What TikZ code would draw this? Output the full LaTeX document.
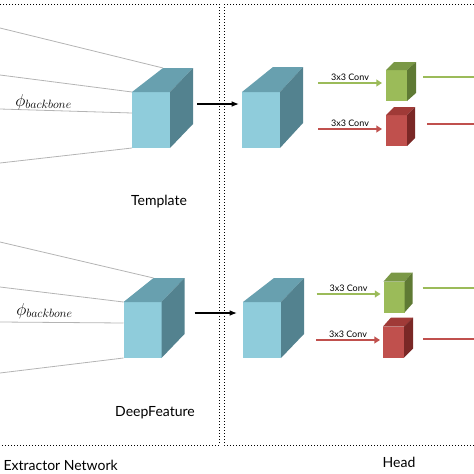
\documentclass[tikz,border=0pt]{standalone}
\usepackage{fontspec}
\setmainfont{Lato}
\usepackage{tikz}
\usetikzlibrary{arrows.meta,positioning}

\definecolor{cubefront}{HTML}{8FCCDB}
\definecolor{cubetop}{HTML}{68A0AF}
\definecolor{cubeside}{HTML}{53828F}
\definecolor{clsfront}{HTML}{9BBB59}
\definecolor{clstop}{HTML}{7A9846}
\definecolor{clsside}{HTML}{5F7A34}
\definecolor{regfront}{HTML}{C0504D}
\definecolor{regtop}{HTML}{A03A37}
\definecolor{regside}{HTML}{7A2826}
\definecolor{feedgray}{HTML}{B4B4B4}

% top and side faces of a cube whose front face is node #1
\newcommand{\cubesides}[6]{%
  \fill[#5] (#1.north west) -- ++(#2,-#4) -- ([shift={(#3,-#4)}]#1.north east) -- (#1.north east) -- cycle;
  \fill[#6] (#1.north east) -- ([shift={(#3,-#4)}]#1.north east) -- ([shift={(#3,-#4)}]#1.south east) -- (#1.south east) -- cycle;
}

\begin{document}
\begin{tikzpicture}[
x=1pt, y=-1pt,
face/.style={
inner sep=0,
outer sep=0,
minimum width=38pt,
minimum height=56pt
},
smallface/.style={
inner sep=0,
outer sep=0,
minimum width=21pt,
minimum height=31pt
},
feed/.style={
draw=feedgray,
line width=0.8pt
},
flow/.style={
-{Latex[length=2.6mm,width=2mm]},
line width=1.2pt
},
conv/.style={
-{Triangle[length=2mm,width=2.4mm]},
line width=2.2pt
},
outline/.style={
line width=2.6pt
},
convlabel/.style={
font=\fontsize{9}{10}\selectfont,
above,
inner sep=1pt,
text=black
},
philabel/.style={
font=\fontsize{17.5}{20}\selectfont,
above,
inner sep=0.5pt
},
caption/.style={
font=\fontsize{14}{16}\selectfont
},
frame/.style={
dotted,
line width=1pt
}
]
\clip (0,0) rectangle (474,474);

% frames
\draw[frame] (-10,4) rectangle (219,445);
\draw[frame] (224,4) rectangle (484,445);

% template branch
\node[face, fill=cubefront] (tmpl) at (151,120) {};
\cubesides{tmpl}{31}{23}{24}{cubetop}{cubeside}
\coordinate (tmplback) at ([shift={(31,-24)}]tmpl.north west);
\coordinate (tin1) at (0,28);
\coordinate (tin2) at (0,75);
\coordinate (tin3) at (0,109);
\coordinate (tin4) at (0,163);
\draw[feed] (tin1) -- (tmplback);
\draw[feed] (tin2) -- (tmpl.north west);
\draw[feed] (tin3) -- node[philabel, pos=.33] {$\phi_{backbone}$} ([yshift=7pt]tmpl.west);
\draw[feed] (tin4) -- (tmpl.south west);
\node[caption] (tmpltext) at (159,202) {Template};

% deep feature branch
\node[face, fill=cubefront] (deep) at (142.5,330) {};
\cubesides{deep}{30}{23}{24}{cubetop}{cubeside}
\coordinate (deepback) at ([shift={(30,-24)}]deep.north west);
\coordinate (din1) at (0,242);
\coordinate (din2) at (0,287);
\coordinate (din3) at (0,322);
\coordinate (din4) at (0,373);
\draw[feed] (din1) -- (deepback);
\draw[feed] (din2) -- (deep.north west);
\draw[feed] (din3) -- node[philabel, pos=.36, above=3pt] {$\phi_{backbone}$} ([yshift=7pt]deep.west);
\draw[feed] (din4) -- (deep.south west);
\node[caption] (deeptext) at (155,413) {DeepFeature};

% head, top
\node[face, fill=cubefront] (headtop) at (261,120) {};
\cubesides{headtop}{31}{23}{25}{cubetop}{cubeside}
\node[smallface, fill=clsfront] (clstop) at (396.5,85.5) {};
\cubesides{clstop}{8}{9}{8}{clstop}{clsside}
\node[smallface, fill=regfront] (regtop) at (396.5,130.5) {};
\cubesides{regtop}{8}{8}{8}{regtop}{regside}

% head, bottom
\node[face, fill=cubefront] (headbot) at (262,330) {};
\cubesides{headbot}{31}{23}{24}{cubetop}{cubeside}
\node[smallface, fill=clsfront] (clsbot) at (394,297) {};
\cubesides{clsbot}{8}{8}{9}{clstop}{clsside}
\node[smallface, fill=regfront] (regbot) at (393.5,342) {};
\cubesides{regbot}{8}{9}{9}{regtop}{regside}

% connections
\draw[flow] ([shift={(27,-16)}]tmpl.east) -- ([shift={(-3,-16)}]headtop.west);
\draw[flow] ([shift={(33,-17)}]deep.east) -- ([shift={(-6,-17)}]headbot.west);

\draw[conv, clsfront] ([shift={(-68,-2.5)}]clstop.west) -- node[convlabel] {3x3 Conv} ([shift={(-4,-2.5)}]clstop.west);
\draw[conv, regfront] ([shift={(-68,-1.5)}]regtop.west) -- node[convlabel] {3x3 Conv} ([shift={(-4,-1.5)}]regtop.west);
\draw[conv, clsfront] ([shift={(-67,-3)}]clsbot.west) -- node[convlabel] {3x3 Conv} ([shift={(-3,-3)}]clsbot.west);
\draw[conv, regfront] ([shift={(-67,-2)}]regbot.west) -- node[convlabel] {3x3 Conv} ([shift={(-3,-2)}]regbot.west);

\coordinate (clstopout) at (480,77);
\coordinate (regtopout) at (480,124);
\coordinate (clsbotout) at (480,288);
\coordinate (regbotout) at (480,339);
\draw[outline, clsfront] ([shift={(16,-8.5)}]clstop.east) -- (clstopout);
\draw[outline, regfront] ([shift={(20,-6.5)}]regtop.east) -- (regtopout);
\draw[outline, clsfront] ([shift={(18,-9)}]clsbot.east) -- (clsbotout);
\draw[outline, regfront] ([shift={(19,-3)}]regbot.east) -- (regbotout);

% captions
\node[caption, anchor=west] (extext) at (0,465) {Extractor Network};
\node[caption] (headtext) at (399,462) {Head};

\end{tikzpicture}
\end{document}
